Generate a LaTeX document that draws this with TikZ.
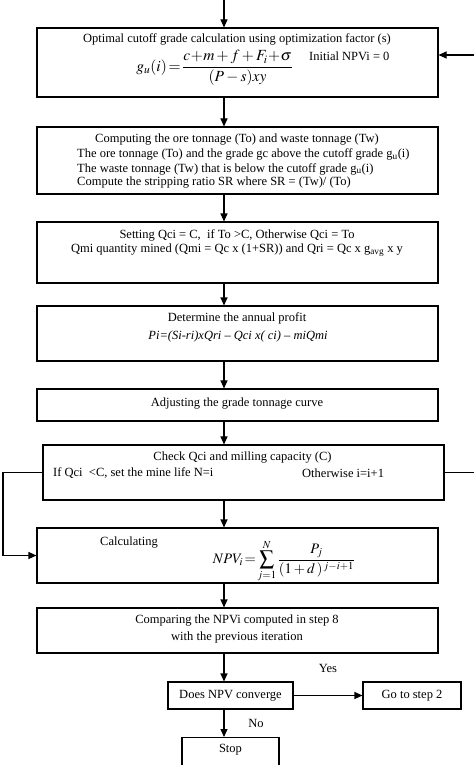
\documentclass[tikz,border=0pt]{standalone}
\usepackage{mathptmx}
\usepackage{fontspec}
\setmainfont{Liberation Serif}
\usetikzlibrary{arrows.meta}
\begin{document}
\begin{tikzpicture}[x=1pt,y=-1pt,
  box/.style={draw,line width=1.1pt,minimum width=401pt,inner sep=0pt},
  arr/.style={line width=1.1pt,-{Triangle[length=8pt,width=7pt]}},
  ln/.style={line width=1.1pt},
  txt/.style={inner sep=0pt,font=\fontsize{12.5}{14.5}\selectfont},
  big/.style={inner sep=0pt,font=\fontsize{15.5}{18}\selectfont},
  mid/.style={inner sep=0pt,font=\fontsize{14.5}{16}\selectfont}]
\useasboundingbox (0,0) rectangle (474,765);
\clip (0,0) rectangle (474,765);
\coordinate (ax) at (224,0);
\coordinate (top) at (224,0);
\coordinate (lx) at (3,0);
\coordinate (rx) at (474,0);
\coordinate (r1) at (474,55);
% boxes
\node[box,minimum height=69pt] (b1) at (237.5,62.5) {};
\node[box,minimum height=67pt] (b2) at (237.5,160.5) {};
\node[box,minimum height=61pt] (b3) at (237.5,252.5) {};
\node[box,minimum height=55pt] (b4) at (237.5,333.5) {};
\node[box,minimum height=32pt] (b5) at (237.5,405) {};
\node[box,minimum height=55pt] (b6) at (243.5,472.5) {};
\node[box,minimum height=55pt] (b7) at (237.5,555.5) {};
\node[box,minimum height=45pt] (b8) at (237.5,630.5) {};
\node[box,minimum width=125pt,minimum height=27pt] (b9) at (230.5,695.5) {};
\node[box,minimum width=98pt,minimum height=27pt] (b10) at (412,695.5) {};
\node[box,minimum width=97pt,minimum height=50pt,anchor=north] (b11) at (230.5,737) {};
% texts box 1
\node[txt] (t1a) at (237,39) {Optimal cutoff grade calculation using optimization factor (s)};
\node[big,anchor=east] (t1b) at (293,68) {$\displaystyle g_u(i)\!=\!\frac{c\!+\!m+f+F_i\!+\!\sigma}{(P-s)xy}$};
\node[txt,anchor=west] (t1c) at (309,56) {Initial NPVi = 0};
% box 2
\node[txt] (t2a) at (237,140) {Computing the ore tonnage (To) and waste tonnage (Tw)};
\node[txt,anchor=west] (t2b) at (77,154.5) {The ore tonnage (To) and the grade gc above the cutoff grade g\textsubscript{u}(i)};
\node[txt,anchor=west] (t2c) at (77,169) {The waste tonnage (Tw) that is below the cutoff grade g\textsubscript{u}(i)};
\node[txt,anchor=west] (t2d) at (77,183) {Compute the stripping ratio SR where SR = (Tw)/ (To)};
% box 3
\node[txt] (t3a) at (237,235) {Setting Qci = C,\ \ if To >C, Otherwise Qci = To};
\node[txt] (t3b) at (237,250) {Qmi quantity mined (Qmi = Qc x (1+SR)) and Qri = Qc x g\textsubscript{avg} x y};
% box 4
\node[txt] (t4a) at (237,318) {Determine the annual profit};
\node[txt] (t4b) at (238,336) {\itshape Pi=(Si-ri)xQri – Qci x( ci) – miQmi};
% box 5
\node[txt] (t5) at (237,404) {Adjusting the grade tonnage curve};
% box 6
\node[txt] (t6a) at (242.5,458) {Check Qci and milling capacity (C)};
\node[txt,anchor=west] (t6b) at (53,473) {If Qci\ \ <C, set the mine life N=i};
\node[txt,anchor=west] (t6c) at (302,473) {Otherwise i=i+1};
% box 7
\node[txt,anchor=west] (t7a) at (100,543) {Calculating};
\node[mid] (t7b) at (284,561) {$\displaystyle NPV_i\!=\!\sum_{j=1}^{N}\frac{P_j}{(1+d\,)^{\,j-i+1}}$};
% box 8
\node[txt] (t8a) at (237,621) {Comparing the NPVi computed in step 8};
\node[txt] (t8b) at (237,637) {with the previous iteration};
% small boxes
\node[txt] (t9) at (b9) {Does NPV converge};
\node[txt] (t10) at (b10) {Go to step 2};
\node[txt] (t11) at (230.5,750) {Stop};
\node[txt] (yes) at (328,668) {Yes};
\node[txt] (no) at (256,723) {No};
% connectors
\draw[arr] (top) -- (b1.north -| ax);
\draw[arr] (r1) -- (r1 -| b1.east);
\draw[arr] (b1.south -| ax) -- (b2.north -| ax);
\draw[arr] (b2.south -| ax) -- (b3.north -| ax);
\draw[arr] (b3.south -| ax) -- (b4.north -| ax);
\draw[arr] (b4.south -| ax) -- (b5.north -| ax);
\draw[arr] (b5.south -| ax) -- (b6.north -| ax);
\draw[arr] (b6.south -| ax) -- (b7.north -| ax);
\draw[arr] (b7.south -| ax) -- (b8.north -| ax);
\draw[arr] (b8.south -| ax) -- (b9.north -| ax);
\draw[arr] (b9.south -| ax) -- (b11.north -| ax);
\draw[arr] (b9.east) -- (b10.west);
\draw[arr] (b6.west) -- (b6.west -| lx) |- (b7.west);
\draw[ln] (b6.east) -- (b6.east -| rx);
\end{tikzpicture}
\end{document}
